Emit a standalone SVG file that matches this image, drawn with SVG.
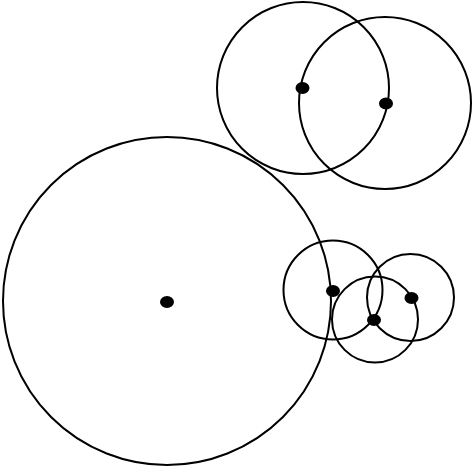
<svg xmlns="http://www.w3.org/2000/svg" width="474" height="469" viewBox="0 0 474 469">
<style>
.c{fill:none;stroke:#000;stroke-width:2}
.d{fill:#000}
</style>
<rect width="474" height="469" fill="#fff"/>
<g id="big"><circle class="c" cx="167" cy="301" r="164"/><ellipse class="d" cx="167" cy="302" rx="7" ry="6"/></g>
<g id="top1"><circle class="c" cx="303" cy="88" r="86"/><ellipse class="d" cx="302.5" cy="88" rx="7" ry="6"/></g>
<g id="top2"><circle class="c" cx="385" cy="103" r="86"/><ellipse class="d" cx="386" cy="103.5" rx="7" ry="6"/></g>
<g id="small1"><circle class="c" cx="333" cy="290" r="49.5"/><ellipse class="d" cx="333" cy="291" rx="7" ry="6"/></g>
<g id="small2"><circle class="c" cx="375" cy="319.5" r="43"/><ellipse class="d" cx="374" cy="320" rx="7" ry="6"/></g>
<g id="small3"><circle class="c" cx="410.5" cy="297.5" r="43.5"/><ellipse class="d" cx="411.5" cy="298" rx="7" ry="6"/></g>
<g id="connectors"></g>
</svg>
